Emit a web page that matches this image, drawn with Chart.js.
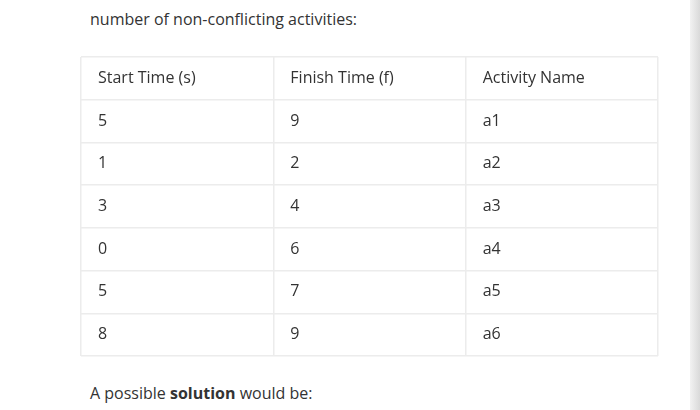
<!DOCTYPE html>
<html>
<head>
<meta charset="utf-8">
<script src="https://cdn.jsdelivr.net/npm/chart.js@4"></script>
<style>
  body { margin: 0; width: 700px; height: 410px; background: #fff; position: relative; overflow: hidden;
         font-family: "Open Sans", sans-serif; color: #333; }
  .txt { position: absolute; left: 90px; font-size: 16px; }
  #wrap { position: absolute; left: 80px; top: 56px; width: 579px; height: 301px; }
  #edge { position: absolute; right: 0; top: 0; width: 10px; height: 410px;
          background: linear-gradient(to right, #f2f2f2, #d9d9d9); }
</style>
</head>
<body>
<div class="txt" style="top:8px">number of non-conflicting activities:</div>
<div id="wrap"><canvas id="tbl"></canvas></div>
<div class="txt" style="top:382px">A possible <b>solution</b> would be:</div>
<div id="edge"></div>
<script>
const headers = ['Start Time (s)', 'Finish Time (f)', 'Activity Name'];
const startTimes = ['5', '1', '3', '0', '5', '8'];
const finishTimes = ['9', '2', '4', '6', '7', '9'];
const activityNames = ['a1', 'a2', 'a3', 'a4', 'a5', 'a6'];

const rows = [headers].concat(startTimes.map((s, i) => [s, finishTimes[i], activityNames[i]]));

// writes the cell texts at positions from the chart's own scales
const cellText = {
  id: 'cellText',
  afterDraw(chart) {
    const { ctx, scales } = chart;
    ctx.save();
    ctx.font = '16px "Open Sans", sans-serif';
    ctx.fillStyle = '#333';
    ctx.textBaseline = 'middle';
    rows.forEach((row, r) => {
      row.forEach((t, c) => {
        ctx.fillText(t, scales.x.getPixelForValue(c) + 17, scales.y.getPixelForValue(r + 0.5));
      });
    });
    ctx.restore();
  }
};

const axis = (max, reverse) => ({
  type: 'linear', min: 0, max: max, reverse: reverse,
  ticks: { display: false, stepSize: 1 },
  grid: { color: '#ececec', lineWidth: 1.5, drawTicks: false },
  border: { display: false }
});

new Chart(document.getElementById('tbl'), {
  type: 'scatter',
  data: { datasets: [{ data: [] }] },
  options: {
    responsive: true,
    maintainAspectRatio: false,
    animation: false,
    layout: { padding: 1 },
    plugins: { legend: { display: false }, tooltip: { enabled: false } },
    scales: { x: axis(3, false), y: axis(rows.length, true) }
  },
  plugins: [cellText]
});
</script>
</body>
</html>
